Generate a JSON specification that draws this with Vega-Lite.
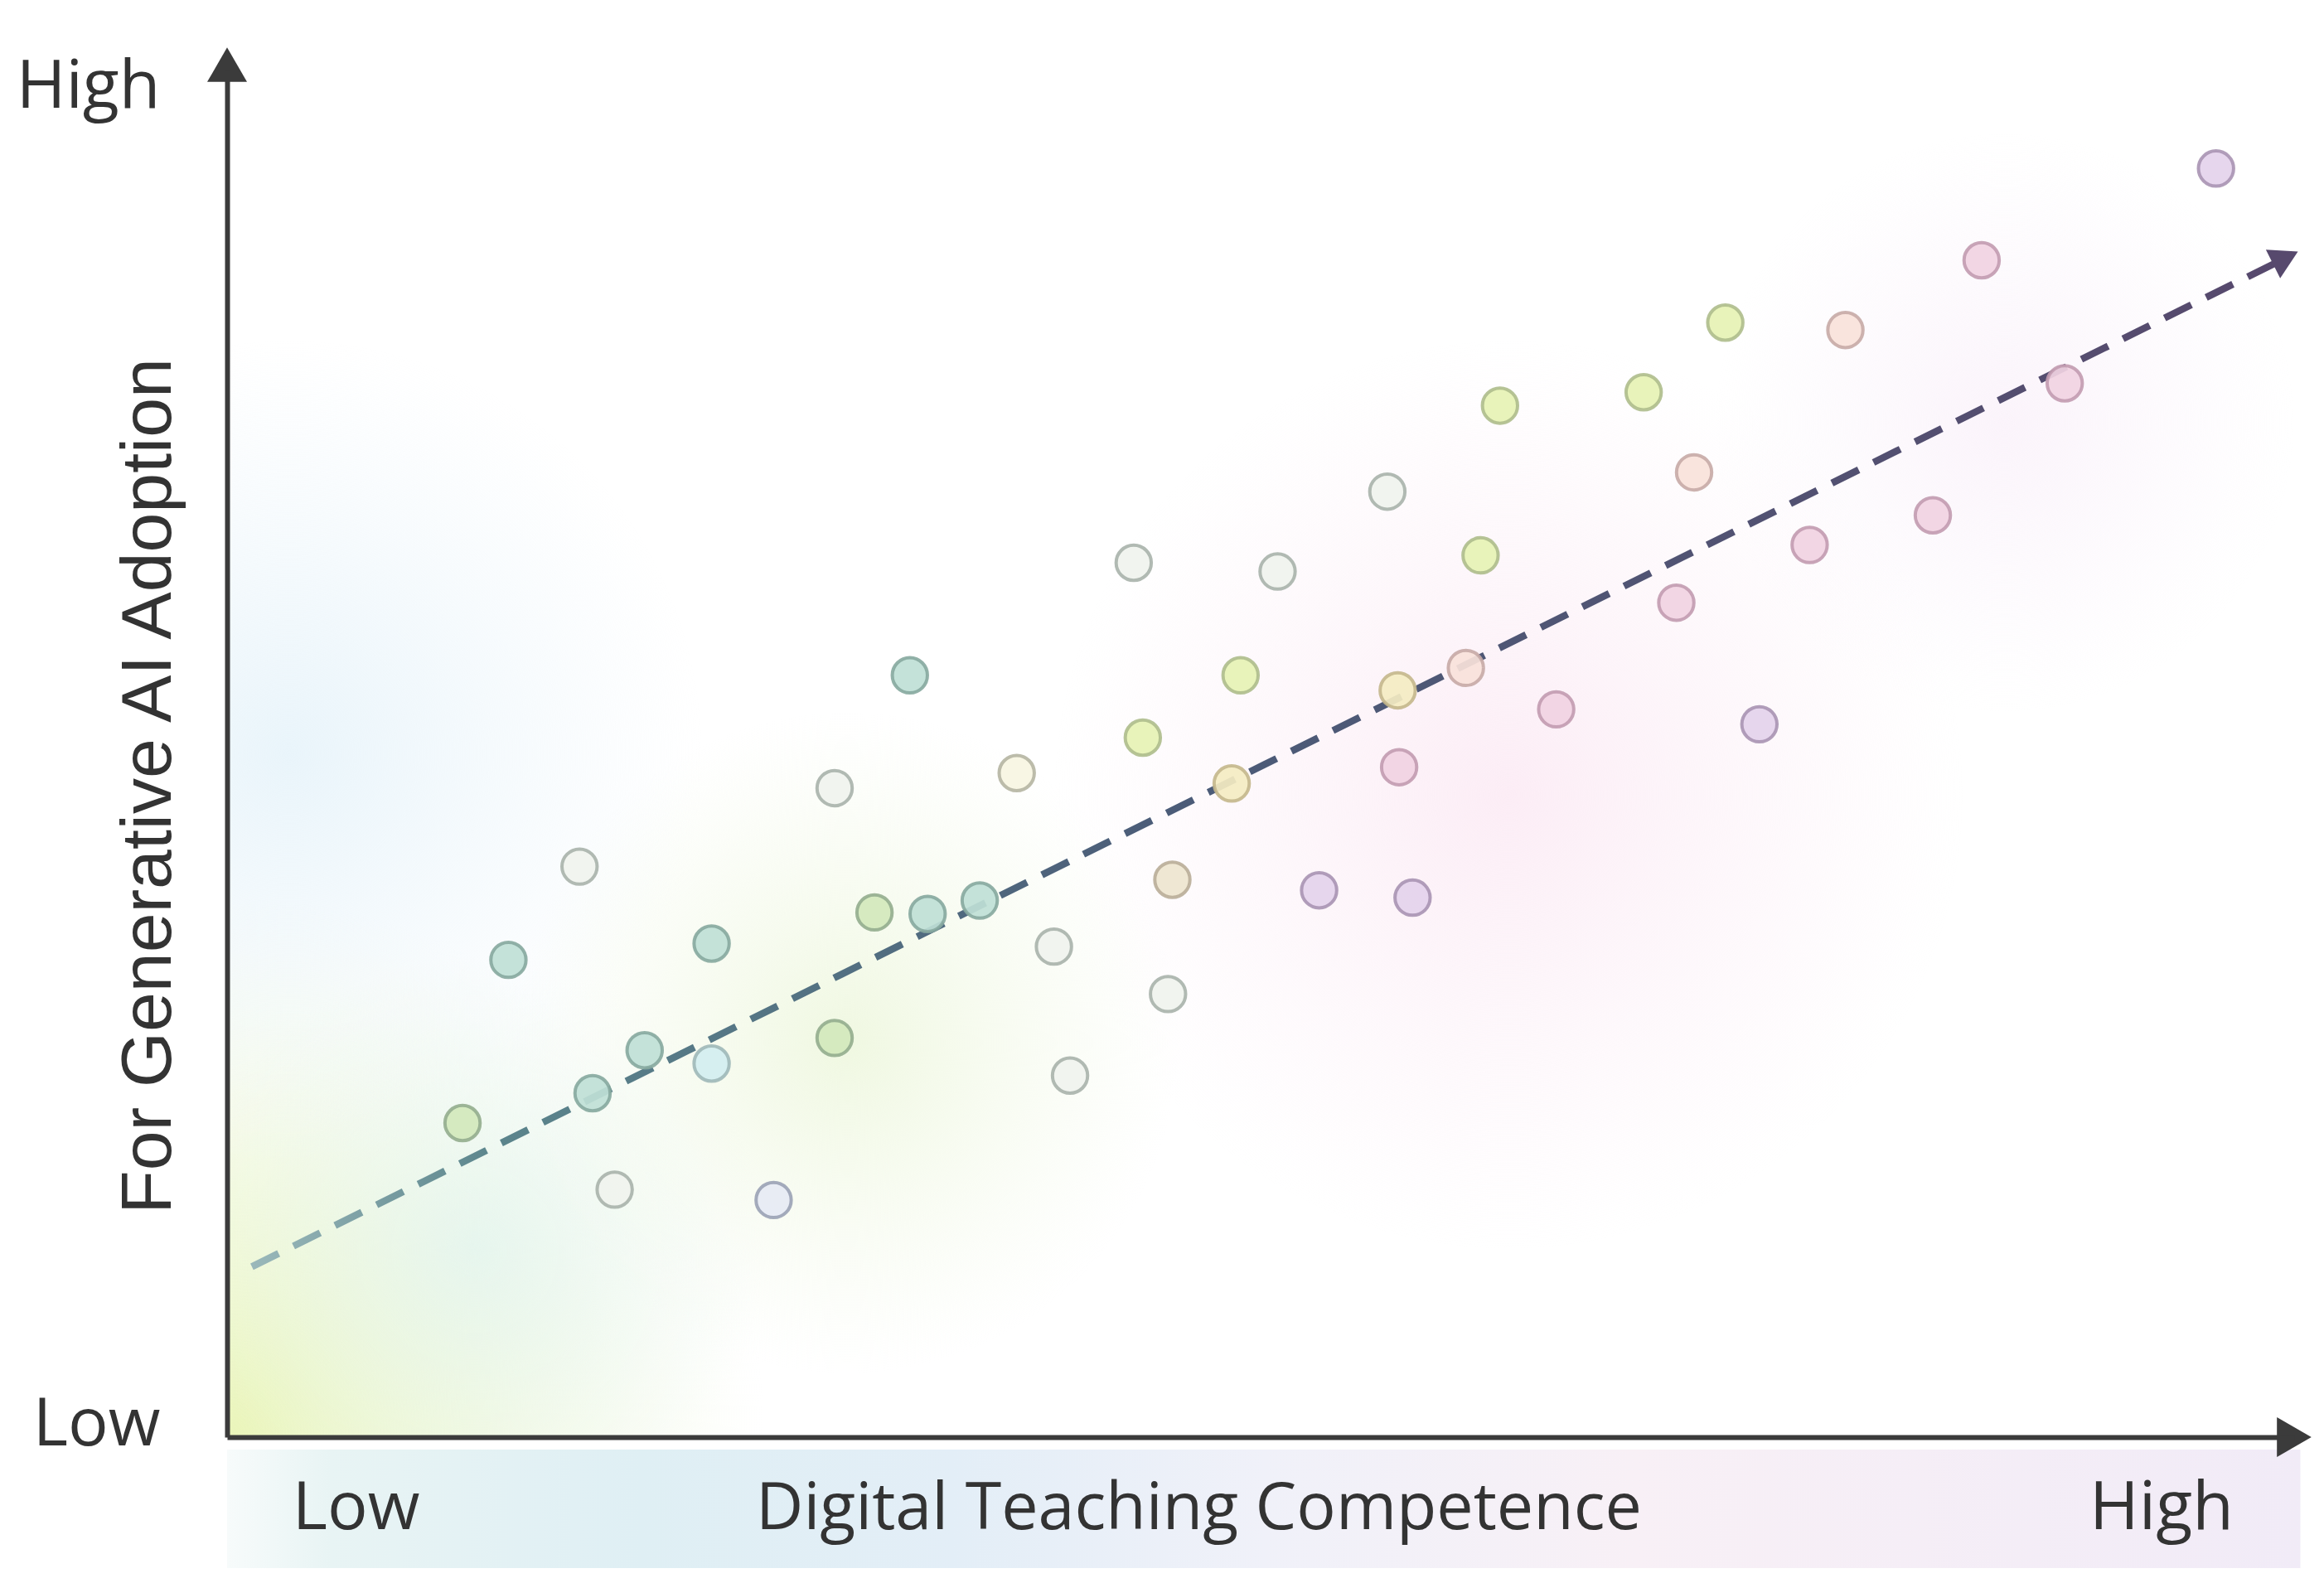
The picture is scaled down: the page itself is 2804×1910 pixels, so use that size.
{
  "$schema": "https://vega.github.io/schema/vega-lite/v6.json",
  "width": 2494,
  "height": 1650,
  "autosize": {"type": "none"},
  "padding": {"left": 274, "top": 84, "right": 36, "bottom": 176},
  "background": "#ffffff",
  "config": {"view": {"stroke": null}},
  "data": {"values": [
    {"dtc": 11.39, "adopt": 22.97, "group": "green"},
    {"dtc": 13.61, "adopt": 34.90, "group": "teal"},
    {"dtc": 17.05, "adopt": 41.72, "group": "grey"},
    {"dtc": 17.68, "adopt": 25.15, "group": "teal"},
    {"dtc": 18.75, "adopt": 18.10, "group": "grey"},
    {"dtc": 20.20, "adopt": 28.29, "group": "teal"},
    {"dtc": 23.44, "adopt": 36.09, "group": "teal"},
    {"dtc": 23.44, "adopt": 27.32, "group": "aqua"},
    {"dtc": 26.44, "adopt": 17.34, "group": "bluegrey"},
    {"dtc": 29.39, "adopt": 47.46, "group": "grey"},
    {"dtc": 29.39, "adopt": 29.19, "group": "green"},
    {"dtc": 31.32, "adopt": 38.37, "group": "green"},
    {"dtc": 33.03, "adopt": 55.71, "group": "teal"},
    {"dtc": 33.89, "adopt": 38.26, "group": "teal"},
    {"dtc": 36.41, "adopt": 39.24, "group": "teal"},
    {"dtc": 38.20, "adopt": 48.56, "group": "cream"},
    {"dtc": 40.00, "adopt": 35.87, "group": "grey"},
    {"dtc": 40.78, "adopt": 26.44, "group": "grey"},
    {"dtc": 43.86, "adopt": 63.94, "group": "grey"},
    {"dtc": 44.30, "adopt": 51.15, "group": "lime"},
    {"dtc": 45.52, "adopt": 32.40, "group": "grey"},
    {"dtc": 45.73, "adopt": 40.76, "group": "tan"},
    {"dtc": 48.60, "adopt": 47.80, "group": "yellow"},
    {"dtc": 49.03, "adopt": 55.71, "group": "lime"},
    {"dtc": 50.82, "adopt": 63.30, "group": "grey"},
    {"dtc": 52.83, "adopt": 39.99, "group": "purple"},
    {"dtc": 56.13, "adopt": 69.14, "group": "grey"},
    {"dtc": 56.63, "adopt": 54.61, "group": "yellow"},
    {"dtc": 56.70, "adopt": 48.99, "group": "pink"},
    {"dtc": 57.35, "adopt": 39.45, "group": "purple"},
    {"dtc": 59.93, "adopt": 56.25, "group": "peach"},
    {"dtc": 60.64, "adopt": 64.48, "group": "lime"},
    {"dtc": 61.58, "adopt": 75.43, "group": "lime"},
    {"dtc": 64.30, "adopt": 53.22, "group": "pink"},
    {"dtc": 68.53, "adopt": 76.41, "group": "lime"},
    {"dtc": 70.11, "adopt": 61.02, "group": "pink"},
    {"dtc": 70.97, "adopt": 70.55, "group": "peach"},
    {"dtc": 72.48, "adopt": 81.50, "group": "lime"},
    {"dtc": 74.13, "adopt": 52.13, "group": "purple"},
    {"dtc": 76.56, "adopt": 65.24, "group": "pink"},
    {"dtc": 78.29, "adopt": 80.96, "group": "peach"},
    {"dtc": 82.52, "adopt": 67.41, "group": "pink"},
    {"dtc": 84.88, "adopt": 86.06, "group": "pink"},
    {"dtc": 88.90, "adopt": 77.06, "group": "pink"},
    {"dtc": 96.22, "adopt": 92.77, "group": "purple"}
  ]},
  "layer": [
    {
      "data": {"values": [{"area": "plot"}]},
      "mark": {"type": "rect", "fill": {"gradient": "radial", "x1": 0.0, "y1": 0.83, "r1": 0, "x2": 0.0, "y2": 0.83, "r2": 0.26,
        "stops": [{"offset": 0, "color": "rgba(234,245,186,1)"}, {"offset": 0.45, "color": "rgba(238,247,208,0.7)"}, {"offset": 1, "color": "rgba(240,248,225,0)"}]}},
      "encoding": {"x": {"datum": 0, "type": "quantitative", "scale": {"domain": [0, 100], "nice": false, "zero": false}}, "x2": {"datum": 100}, "y": {"datum": 0, "type": "quantitative", "scale": {"domain": [0, 100], "nice": false, "zero": false}}, "y2": {"datum": 100}}
    },
    {
      "data": {"values": [{"area": "plot"}]},
      "mark": {"type": "rect", "fill": {"gradient": "radial", "x1": 0.03, "y1": 0.5, "r1": 0, "x2": 0.03, "y2": 0.5, "r2": 0.2,
        "stops": [{"offset": 0, "color": "rgba(226,241,249,0.75)"}, {"offset": 1, "color": "rgba(232,243,250,0)"}]}},
      "encoding": {"x": {"datum": 0, "type": "quantitative"}, "x2": {"datum": 100}, "y": {"datum": 0, "type": "quantitative"}, "y2": {"datum": 100}}
    },
    {
      "data": {"values": [{"area": "plot"}]},
      "mark": {"type": "rect", "fill": {"gradient": "radial", "x1": 0.12, "y1": 0.74, "r1": 0, "x2": 0.12, "y2": 0.74, "r2": 0.14,
        "stops": [{"offset": 0, "color": "rgba(224,243,240,0.7)"}, {"offset": 1, "color": "rgba(230,245,242,0)"}]}},
      "encoding": {"x": {"datum": 0, "type": "quantitative"}, "x2": {"datum": 100}, "y": {"datum": 0, "type": "quantitative"}, "y2": {"datum": 100}}
    },
    {
      "data": {"values": [{"area": "plot"}]},
      "mark": {"type": "rect", "fill": {"gradient": "radial", "x1": 0.3, "y1": 0.64, "r1": 0, "x2": 0.3, "y2": 0.64, "r2": 0.16,
        "stops": [{"offset": 0, "color": "rgba(236,246,218,0.8)"}, {"offset": 1, "color": "rgba(240,248,228,0)"}]}},
      "encoding": {"x": {"datum": 0, "type": "quantitative"}, "x2": {"datum": 100}, "y": {"datum": 0, "type": "quantitative"}, "y2": {"datum": 100}}
    },
    {
      "data": {"values": [{"area": "plot"}]},
      "mark": {"type": "rect", "fill": {"gradient": "radial", "x1": 0.62, "y1": 0.52, "r1": 0, "x2": 0.62, "y2": 0.52, "r2": 0.22,
        "stops": [{"offset": 0, "color": "rgba(251,232,243,0.8)"}, {"offset": 1, "color": "rgba(251,238,246,0)"}]}},
      "encoding": {"x": {"datum": 0, "type": "quantitative"}, "x2": {"datum": 100}, "y": {"datum": 0, "type": "quantitative"}, "y2": {"datum": 100}}
    },
    {
      "data": {"values": [{"area": "plot"}]},
      "mark": {"type": "rect", "fill": {"gradient": "radial", "x1": 0.86, "y1": 0.34, "r1": 0, "x2": 0.86, "y2": 0.34, "r2": 0.14,
        "stops": [{"offset": 0, "color": "rgba(248,236,248,0.6)"}, {"offset": 1, "color": "rgba(248,240,250,0)"}]}},
      "encoding": {"x": {"datum": 0, "type": "quantitative"}, "x2": {"datum": 100}, "y": {"datum": 0, "type": "quantitative"}, "y2": {"datum": 100}}
    },
    {
      "data": {"values": [{"area": "label strip"}]},
      "mark": {"type": "rect", "fill": {"gradient": "linear", "x1": 0, "y1": 0, "x2": 1, "y2": 0,
        "stops": [{"offset": 0, "color": "#f7fbfb"}, {"offset": 0.05, "color": "#e8f4f4"}, {"offset": 0.2, "color": "#dfeff4"}, {"offset": 0.35, "color": "#e3eef7"}, {"offset": 0.5, "color": "#f0f1f9"}, {"offset": 0.68, "color": "#f8f0f6"}, {"offset": 1, "color": "#f1ebf7"}]}},
      "encoding": {"x": {"datum": 0, "type": "quantitative"}, "x2": {"datum": 100.3}, "y": {"datum": -0.91, "type": "quantitative"}, "y2": {"datum": -9.58}}
    },
    {
      "data": {"values": [{"dtc": 1.2, "adopt": 12.46}, {"dtc": 99.28, "adopt": 85.99}]},
      "mark": {"type": "line", "strokeWidth": 8.5, "strokeDash": [36, 20], "strokeCap": "butt",
        "stroke": {"gradient": "linear", "x1": 0, "y1": 0, "x2": 1, "y2": 0,
          "stops": [{"offset": 0, "color": "#9ab8ba"}, {"offset": 0.12, "color": "#5b858c"}, {"offset": 0.45, "color": "#4b5c78"}, {"offset": 1, "color": "#57496d"}]}},
      "encoding": {"x": {"field": "dtc", "type": "quantitative"}, "y": {"field": "adopt", "type": "quantitative"}}
    },
    {
      "mark": {"type": "point", "filled": true, "size": 1800, "strokeWidth": 4, "opacity": 1, "fillOpacity": 0.92, "strokeOpacity": 0.9},
      "encoding": {
        "x": {
          "field": "dtc", "type": "quantitative",
          "scale": {"domain": [0, 100], "nice": false, "zero": false},
          "axis": {
            "zindex": 1,
            "values": [6.22, 93.56],
            "labelExpr": "datum.value < 50 ? 'Low' : 'High'",
            "ticks": false, "grid": false,
            "domainColor": "#3b3b3b", "domainWidth": 6,
            "labelFont": "Open Sans", "labelFontSize": 81, "labelColor": "#333333",
            "labelBaseline": "middle", "labelPadding": 86, "labelFlush": false, "labelOverlap": false,
            "title": "Digital Teaching Competence",
            "titleFont": "Open Sans", "titleFontSize": 79, "titleFontWeight": "normal", "titleColor": "#333333",
            "titleX": 1172, "titleY": 86, "titleBaseline": "middle", "titleAlign": "center"
          }
        },
        "y": {
          "field": "adopt", "type": "quantitative",
          "scale": {"domain": [0, 100], "nice": false, "zero": false},
          "axis": {
            "zindex": 1,
            "values": [0.87, 98.7],
            "labelExpr": "datum.value < 50 ? 'Low' : 'High'",
            "ticks": false, "grid": false,
            "domainColor": "#3b3b3b", "domainWidth": 6,
            "labelFont": "Open Sans", "labelFontSize": 81, "labelColor": "#333333",
            "labelAlign": "right", "labelBaseline": "middle", "labelPadding": 81, "labelFlush": false, "labelOverlap": false,
            "title": "For Generative AI Adoption",
            "titleFont": "Liberation Sans", "titleFontSize": 86, "titleFontWeight": "normal", "titleColor": "#333333",
            "titleX": -95, "titleY": 864, "titleAngle": -90, "titleBaseline": "middle", "titleAlign": "center"
          }
        },
        "fill": {"field": "group", "type": "nominal", "legend": null,
          "scale": {"domain": ["teal", "aqua", "green", "grey", "cream", "bluegrey", "lime", "yellow", "tan", "peach", "pink", "purple"],
                    "range": ["#bfe0d6", "#d3eef0", "#d3e8bc", "#f0f3ee", "#f7f5e2", "#e6eaf4", "#e6f2b4", "#f4ecc2", "#eee5cf", "#f8e2da", "#f1d2e2", "#e4d2ec"]}},
        "stroke": {"field": "group", "type": "nominal", "legend": null,
          "scale": {"domain": ["teal", "aqua", "green", "grey", "cream", "bluegrey", "lime", "yellow", "tan", "peach", "pink", "purple"],
                    "range": ["#86a89e", "#9fb8b8", "#93ad8e", "#a9b3ab", "#b5b5a2", "#9aa2b5", "#aebc8c", "#c4b78c", "#b9ad98", "#c6aaa6", "#c29bb0", "#a894b2"]}}
      }
    },
    {
      "data": {"values": [{"dtc": 99.58, "adopt": 86.24}]},
      "mark": {"type": "point", "shape": "triangle-right", "filled": true, "size": 1500, "angle": 333.6, "color": "#57496d", "opacity": 1},
      "encoding": {"x": {"field": "dtc", "type": "quantitative"}, "y": {"field": "adopt", "type": "quantitative"}}
    },
    {
      "data": {"values": [{"dtc": 0, "adopt": 100.36}]},
      "mark": {"type": "point", "shape": "triangle-up", "filled": true, "size": 2304, "color": "#3b3b3b", "opacity": 1},
      "encoding": {"x": {"field": "dtc", "type": "quantitative"}, "y": {"field": "adopt", "type": "quantitative"}}
    },
    {
      "data": {"values": [{"dtc": 100, "adopt": 0}]},
      "mark": {"type": "point", "shape": "triangle-right", "filled": true, "size": 2304, "color": "#3b3b3b", "opacity": 1},
      "encoding": {"x": {"field": "dtc", "type": "quantitative"}, "y": {"field": "adopt", "type": "quantitative"}}
    }
  ]
}
